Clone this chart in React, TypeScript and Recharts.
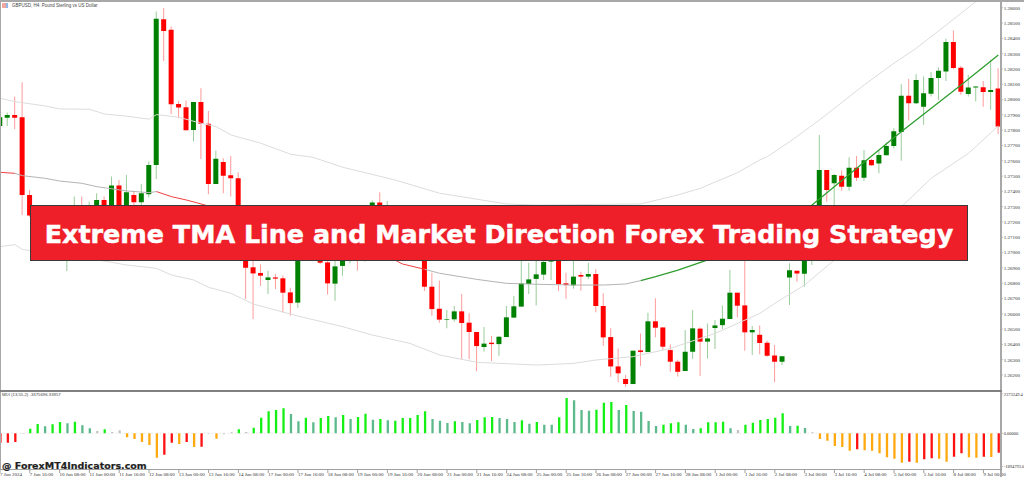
import React from 'react';
import { ComposedChart, Bar, Cell, Line, XAxis, YAxis, ReferenceLine } from 'recharts';

// prices are in points: 127885 means 1.27885
const opens = [127828,127882,127900,127885,127377,127242,127150,127210,127130,127060,127120,127220,127160,127240,127344,127270,127438,127300,127377,127329,127381,127573,128526,128456,127972,127950,127802,127985,127843,127449,127592,127505,127486,127240,126904,126867,126821,126838,126832,126740,126673,127100,127020,127060,126936,126797,126913,126950,127010,126960,127100,127327,127200,127280,127200,127130,127180,127100,126777,126633,126562,126564,126616,126542,126481,126383,126411,126402,126448,126575,126647,126795,126828,126856,126941,127040,126799,126786,126854,126843,126860,126651,126448,126256,126174,126141,126361,126350,126551,126511,126363,126287,126226,126352,126503,126418,126507,126526,126566,126738,126655,126479,126463,126411,126328,126287,126838,126882,126862,127000,127100,127540,127453,127503,127431,127555,127490,127606,127582,127636,127697,127789,128026,127976,127954,128039,128142,128183,128377,128209,128037,128079,128081,128050,128072];
const closes = [127885,127900,127882,127377,127242,127150,127210,127130,127060,127120,127220,127160,127240,127344,127270,127438,127300,127394,127329,127388,127573,128528,128449,127970,127948,127800,127985,127841,127449,127614,127503,127486,127240,126901,126864,126849,126838,126830,126738,126670,127100,127050,127090,126934,126799,126910,126952,127010,126960,127100,127327,127200,127280,127200,127130,127180,127100,126777,126631,126562,126566,126616,126540,126481,126389,126405,126402,126450,126577,126649,126799,126825,126858,126939,127010,126795,126788,126843,126843,126860,126651,126446,126256,126211,126141,126359,126350,126551,126509,126385,126287,126221,126352,126505,126418,126439,126524,126568,126738,126653,126479,126494,126409,126326,126287,126322,126884,126864,127000,127100,127540,127409,127507,127431,127555,127490,127603,127571,127638,127697,127793,128026,127976,128129,128042,128142,128188,128377,128207,128052,128079,128085,128050,128063,127824];
const highs = [127890,127915,128020,128114,127409,127270,127240,127230,127160,127160,127366,127366,127333,127388,127366,127497,127475,127507,127405,127449,127595,128576,128598,128478,127991,127994,127985,128074,127926,127667,127616,127632,127525,127270,127000,126923,126882,126860,126850,126771,127150,127150,127130,127100,126960,126960,126990,127050,127040,127130,127340,127394,127338,127300,127230,127210,127210,127130,126869,126817,126625,126651,126729,126603,126481,126514,126455,126455,126651,126716,126975,126934,126960,126990,127060,127070,126869,126980,126875,126934,126891,126734,126505,126374,126200,126359,126472,126607,126701,126511,126400,126300,126494,126625,126511,126537,126559,126655,126886,126738,127000,126520,126524,126424,126396,126322,126930,126882,127050,127130,127769,127540,127514,127536,127623,127632,127671,127614,127671,127719,127813,128100,128135,128168,128151,128181,128212,128397,128451,128220,128162,128085,128122,128260,128205];
const lows = [127825,127828,127808,127246,127235,127120,127100,127100,127040,126880,127080,127120,127130,127220,127230,127250,127280,127290,127311,127311,127361,127481,128253,127906,127878,127800,127726,127612,127381,127449,127388,127366,127200,126697,126566,126782,126729,126762,126609,126588,126640,127000,126945,126925,126727,126686,126849,126930,126882,126940,127080,127160,127180,127170,127100,127100,127080,126749,126588,126542,126505,126548,126304,126304,126224,126354,126291,126326,126448,126575,126647,126729,126655,126821,126821,126749,126699,126764,126751,126828,126610,126392,126189,126152,126123,126141,126259,126350,126446,126363,126222,126190,126226,126304,126193,126308,126370,126500,126566,126577,126359,126330,126335,126319,126152,126265,126657,126810,126777,126919,127060,127333,127270,127405,127405,127468,127468,127566,127518,127636,127680,127601,127863,127972,127835,128020,127998,128122,128199,128031,128020,127987,127954,127933,127776];

// band lines read at the candles where they are visible: [candle, price]
const upperBand = [[0,128009],[2,127987],[6,127959],[8,127939],[12,127937],[14,127906],[17,127892],[20,127872],[21,127902],[24,127885],[27,127845],[29,127824],[31,127769],[35,127715],[39,127643],[42,127623],[46,127558],[53,127475],[59,127388],[68,127318],[72,127311],[86,127318],[91,127377],[94,127420],[99,127523],[102,127606],[103,127627],[106,127725],[110,127867],[116,128096],[120,128238],[123,128336],[127,128488],[131,128641],[134,128755]];
const lowerBand = [[0,127039],[2,127052],[3,127021],[4,127013],[14,126945],[17,126919],[21,126897],[23,126854],[26,126821],[28,126773],[31,126734],[34,126664],[40,126585],[46,126516],[50,126461],[55,126407],[59,126331],[64,126283],[72,126265],[77,126276],[80,126298],[85,126320],[90,126374],[92,126407],[96,126472],[100,126559],[102,126603],[104,126668],[108,126788],[112,126952],[121,127300],[125,127486],[130,127649],[134,127828]];
const tmaRedStart = [[0,127525],[2,127518]];
const tmaGrayFirst = [[2,127518],[3,127503],[6,127486],[8,127468],[11,127453],[13,127431],[17,127403],[20,127392],[21,127399]];
const tmaRedMiddle = [[21,127399],[23,127366],[25,127344],[27,127318],[53,126952],[54,126926],[57,126891]];
const tmaGraySecond = [[57,126891],[59,126865],[64,126825],[68,126799],[72,126793],[77,126788],[81,126788],[84,126795],[86,126817]];
const tmaGreen = [[86,126817],[88,126843],[91,126886],[95,126952],[109,127311],[121,127791],[129,128096],[134,128292]];

// indicator histogram, in thousands
const histValues = [-532,-532,-494,-19,266,532,399,513,646,570,665,456,285,133,228,76,171,-228,-323,-494,-665,-1387,-1216,-532,-608,-494,-779,-760,-19,-304,-57,57,228,76,323,893,1254,1330,1425,1102,684,893,627,874,988,912,1045,817,931,1121,779,817,741,722,874,874,1045,1254,817,722,589,684,646,570,760,912,931,874,817,646,741,551,646,494,494,912,2014,1881,1330,1292,1349,1748,1786,1330,1615,1273,1235,703,418,494,570,627,494,247,285,627,627,665,285,190,494,608,760,817,893,1140,418,437,304,57,-323,-418,-722,-779,-988,-912,-969,-988,-1140,-1368,-1444,-1672,-1615,-1672,-1482,-1425,-1444,-1615,-1330,-1140,-1368,-1387,-1330,-1349,-1102];
const histLime = [4,5,7,8,10,14,32,34,35,36,37,38,41,43,44,46,48,49,51,53,54,55,56,57,61,64,65,66,70,72,75,76,80,81,82,84,89,90,91,94,95,96,97,100,101,102,103,104,105,107];
const histTeal = [6,9,11,12,39,40,42,45,47,50,52,58,59,60,62,63,67,68,69,71,73,74,77,78,79,83,85,86,87,88,92,93,98,106,108];
const histRed = [0,1,2,22,23,25,27,115,122,124,125,128,129,132,134];
const histOrange = [17,18,19,20,21,24,26,29,110,111,112,113,114,116,117,118,119,120,121,123,126,127,130,131,133];

const timeLabels = ['7 Jun 2024','7 Jun 16:00','10 Jun 08:00','11 Jun 00:00','11 Jun 16:00','12 Jun 08:00','13 Jun 00:00','13 Jun 16:00','14 Jun 08:00','17 Jun 00:00','17 Jun 16:00','18 Jun 08:00','19 Jun 00:00','19 Jun 16:00','20 Jun 08:00','21 Jun 00:00','21 Jun 16:00','24 Jun 08:00','25 Jun 00:00','25 Jun 16:00','26 Jun 08:00','27 Jun 00:00','27 Jun 16:00','28 Jun 08:00','1 Jul 00:00','1 Jul 16:00','2 Jul 08:00','3 Jul 00:00','3 Jul 16:00','4 Jul 08:00','5 Jul 00:00','5 Jul 16:00','8 Jul 08:00','9 Jul 00:00'];
const timeTicks = timeLabels.map((_, k) => k * 4);
const priceTicks = [126200,126300,126400,126500,126600,126700,126800,126900,127000,127100,127200,127300,127400,127500,127600,127700,127800,127900,128000,128100,128200,128300,128400,128500,128600];
const histTicks = [2373.249, 0, -1894.793];

const COLORS = { up: '#008000', down: '#ff0000', lime: '#14f014', teal: '#5cb98c', red: '#ff1010', orange: '#ffa90f', gray: '#c4c4c4' };
const AXIS_FONT = '"Liberation Serif", serif';

const fromPairs = (pairs: number[][], i: number) => {
  const hit = pairs.find((p) => p[0] === i);
  return hit ? hit[1] : null;
};

const priceData = opens.map((o, i) => ({
  i,
  wick: [lows[i], highs[i]],
  body: [Math.min(o, closes[i]), Math.max(o, closes[i])],
  rising: closes[i] >= o,
  upper: fromPairs(upperBand, i),
  lower: fromPairs(lowerBand, i),
  tmaA: fromPairs(tmaRedStart, i),
  tmaB: fromPairs(tmaGrayFirst, i),
  tmaC: fromPairs(tmaRedMiddle, i),
  tmaD: fromPairs(tmaGraySecond, i),
  tmaE: fromPairs(tmaGreen, i),
}));

const histColor = (i: number) => {
  if (histLime.includes(i)) return COLORS.lime;
  if (histTeal.includes(i)) return COLORS.teal;
  if (histRed.includes(i)) return COLORS.red;
  if (histOrange.includes(i)) return COLORS.orange;
  return COLORS.gray;
};
const histData = histValues.map((v, i) => ({ i, hist: v }));

const PLOT_WIDTH = 1000.7;
const AXIS_WIDTH = 1024 - PLOT_WIDTH;
const X_DOMAIN: [number, number] = [0, 134.32];

const PriceTick = ({ x, y, payload }: any) => (
  <g>
    <line x1={x} x2={x + 2} y1={y} y2={y} stroke="#777" strokeWidth={0.7} />
    <text x={x + 3} y={y + 1.8} fontSize={5} fontFamily={AXIS_FONT} fill="#333">
      {(payload.value / 100000).toFixed(5)}
    </text>
  </g>
);

const HistTick = ({ x, y, payload }: any) => {
  const labels: Record<string, string> = { '2373.249': '2373249.4', '0': '0.00000', '-1894.793': '-1894793.0' };
  const shift = payload.value > 0 ? 2.3 : 0;
  return (
    <g>
      <line x1={x} x2={x + 2} y1={y + shift} y2={y + shift} stroke="#777" strokeWidth={0.7} />
      <text x={x + 3} y={y + shift + 1.8} fontSize={4.5} fontFamily={AXIS_FONT} fill="#333">
        {labels[String(payload.value)]}
      </text>
    </g>
  );
};

const TimeTick = ({ x, y, payload }: any) => (
  <g>
    <line x1={x} x2={x} y1={y + 1} y2={y + 4} stroke="#777" strokeWidth={0.7} />
    <text x={x} y={y + 7} fontSize={5} fontFamily={AXIS_FONT} fill="#333">
      {timeLabels[payload.value / 4]}
    </text>
  </g>
);

const bandLine = (key: string) => (
  <Line key={key} xAxisId="candle" dataKey={key} stroke="#dcdcdc" strokeWidth={1} dot={false} connectNulls isAnimationActive={false} />
);
const tmaLine = (key: string, color: string) => (
  <Line key={key} xAxisId="candle" dataKey={key} stroke={color} strokeWidth={color === '#2f9e2f' ? 1.3 : 1} dot={false} connectNulls isAnimationActive={false} />
);

export default function App() {
  return (
    <div style={{ position: 'absolute', left: 0, top: 0, width: 1024, height: 477, overflow: 'hidden', background: '#fff' }}>
      <div style={{ position: 'absolute', left: 0, top: 0, width: 1024 }}>
        <ComposedChart width={1024} height={391} data={priceData} margin={{ top: 2, right: 0, bottom: 1, left: 0 }}>
          <XAxis xAxisId="candle" dataKey="i" type="number" domain={X_DOMAIN} allowDataOverflow hide />
          <XAxis xAxisId="wick" dataKey="i" type="number" domain={X_DOMAIN} allowDataOverflow hide />
          <YAxis orientation="right" width={AXIS_WIDTH} domain={[126102, 128638]} allowDataOverflow ticks={priceTicks} interval={0} axisLine={false} tickLine={false} tickSize={0} tickMargin={0} tick={<PriceTick />} />
          <Bar xAxisId="wick" dataKey="wick" barSize={1} isAnimationActive={false}>
            {priceData.map((d) => (
              <Cell key={d.i} fill={d.rising ? COLORS.up : COLORS.down} fillOpacity={0.4} />
            ))}
          </Bar>
          <Bar xAxisId="candle" dataKey="body" barSize={5} isAnimationActive={false}>
            {priceData.map((d) => (
              <Cell key={d.i} fill={d.rising ? COLORS.up : COLORS.down} />
            ))}
          </Bar>
          {bandLine('upper')}
          {bandLine('lower')}
          {tmaLine('tmaA', '#f04040')}
          {tmaLine('tmaB', '#b4b4b4')}
          {tmaLine('tmaC', '#f04040')}
          {tmaLine('tmaD', '#b4b4b4')}
          {tmaLine('tmaE', '#2f9e2f')}
        </ComposedChart>
      </div>

      <div style={{ position: 'absolute', left: 0, top: 391, width: 1024 }}>
        <ComposedChart width={1024} height={86} data={histData} margin={{ top: 0, right: 0, bottom: 0, left: 0 }}>
          <XAxis dataKey="i" type="number" domain={X_DOMAIN} allowDataOverflow ticks={timeTicks} interval={0} height={8} axisLine={false} tickLine={false} tickSize={0} tickMargin={0} tick={<TimeTick />} />
          <YAxis orientation="right" width={AXIS_WIDTH} domain={[-2035, 2411]} allowDataOverflow ticks={histTicks} interval={0} axisLine={false} tickLine={false} tickSize={0} tickMargin={0} tick={<HistTick />} />
          <ReferenceLine y={0} stroke="#cfcfcf" strokeWidth={0.7} strokeDasharray="1 3" />
          <Bar dataKey="hist" barSize={2.3} isAnimationActive={false}>
            {histData.map((d) => (
              <Cell key={d.i} fill={histColor(d.i)} />
            ))}
          </Bar>
        </ComposedChart>
      </div>

      {/* window frame */}
      <div style={{ position: 'absolute', left: 0, top: 0, width: 1024, height: 1.5, background: '#a8a8a8' }} />
      <div style={{ position: 'absolute', left: 0, top: 0, width: 1, height: 470, background: '#a8a8a8' }} />
      <div style={{ position: 'absolute', left: 1000, top: 0, width: 1.5, height: 477, background: '#a8a8a8' }} />
      <div style={{ position: 'absolute', left: 0, top: 390, width: 1002, height: 2, background: '#808080' }} />
      <div style={{ position: 'absolute', left: 0, top: 469, width: 1002, height: 1, background: '#a0a0a0' }} />

      <div style={{ position: 'absolute', left: 2, top: 3, width: 4, height: 5, background: '#f2a6a0', borderRight: '2px solid #8fb8e8' }} />
      <div style={{ position: 'absolute', left: 12, top: 3, fontFamily: '"Liberation Sans", sans-serif', fontSize: 4.5, color: '#444', whiteSpace: 'nowrap', lineHeight: '6px' }}>
        GBPUSD, H4:  Pound Sterling vs US Dollar
      </div>
      <div style={{ position: 'absolute', left: 2, top: 392, fontFamily: '"Liberation Sans", sans-serif', fontSize: 4.3, color: '#444', whiteSpace: 'nowrap', lineHeight: '6px' }}>
        MDI (13,55,2) -3375696.33957
      </div>

      <div style={{ position: 'absolute', left: 30, top: 205, width: 938, height: 56, boxSizing: 'border-box', background: '#ee1f29', border: '1.5px solid #3a3a3a', display: 'flex', alignItems: 'center', justifyContent: 'center', paddingTop: 2, color: '#fff', fontFamily: '"DejaVu Sans", sans-serif', fontWeight: 700, fontSize: 25.4, WebkitTextStroke: '0.5px #fff', whiteSpace: 'nowrap' }}>
        Extreme TMA Line and Market Direction Forex Trading Strategy
      </div>

      <div style={{ position: 'absolute', left: 2, top: 459, fontFamily: '"DejaVu Sans", sans-serif', fontWeight: 700, fontSize: 9.5, WebkitTextStroke: '0.2px #222', color: '#222', whiteSpace: 'nowrap', lineHeight: '13px' }}>
        @ ForexMT4Indicators.com
      </div>
    </div>
  );
}
